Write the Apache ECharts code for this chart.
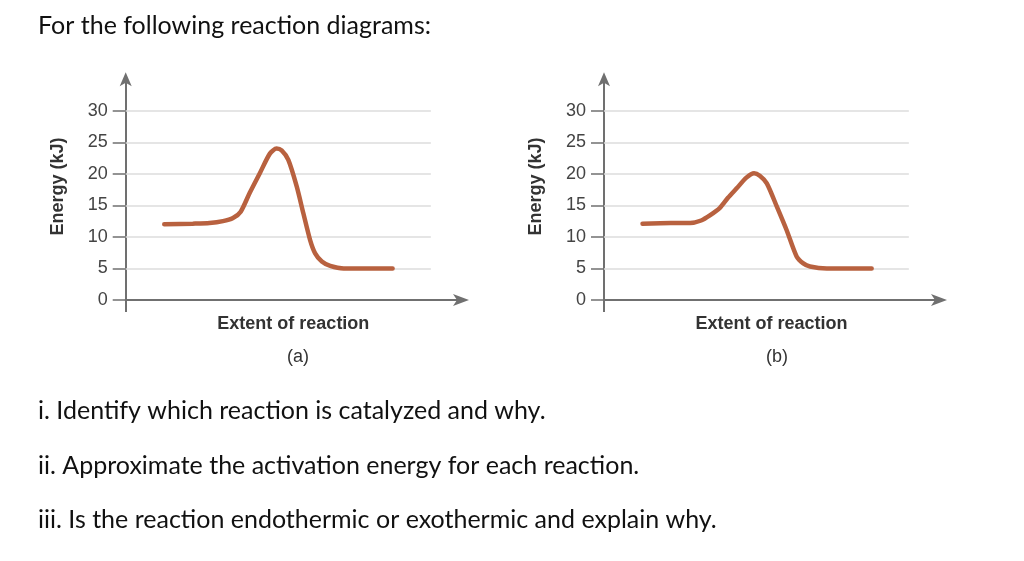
<!DOCTYPE html>
<html>
<head>
<meta charset="utf-8">
<script src="https://cdn.jsdelivr.net/npm/echarts@6/dist/echarts.min.js"></script>
<style>
  html, body { margin: 0; padding: 0; background: #fff; }
  #chart { width: 1024px; height: 561px; }
</style>
</head>
<body>
<div id="chart"></div>
<script>
// energy profile (a): [extent, kJ]
let curveA = [
    [11.5, 12.0], [20, 12.1], [25, 12.2], [29, 12.5], [32, 13.0], [34.3, 14.0],
    [37, 17.0], [40, 20.1], [43, 23.2], [45, 24.0], [46.5, 23.7], [48.5, 22.2],
    [51, 18.0], [53, 13.7], [55, 9.5], [56.5, 7.4], [58.5, 6.1], [61, 5.4],
    [65, 5.0], [79.6, 5.0]
];
// energy profile (b)
let curveB = [
    [11.5, 12.1], [20, 12.2], [25.7, 12.2], [29, 12.6], [31.6, 13.4], [34.6, 14.6],
    [37, 16.2], [39.6, 17.7], [42.5, 19.4], [44.8, 20.1], [46.5, 19.7], [48.6, 18.5],
    [51.6, 14.8], [54.5, 11.1], [57.5, 6.9], [59.5, 5.8], [61.5, 5.3], [66.5, 5.0],
    [79.9, 5.0]
];
let yTicks = [0, 5, 10, 15, 20, 25, 30];
let gridEnd = 91;   // horizontal guide lines stop short of the arrow
let yMax = 35;
let xMax = 100;

let titleText = 'For the following reaction diagrams:';
let questions = [
    'i. Identify which reaction is catalyzed and why.',
    'ii. Approximate the activation energy for each reaction.',
    'iii. Is the reaction endothermic or exothermic and explain why.'
];

let chartFont = '"Liberation Sans", Arial, sans-serif';
let axisColor = '#707070';
let curveColor = '#b8613f';

// 构造坐标轴
function makeX(idx) {
    return {
        type: 'value', gridIndex: idx, min: 0, max: xMax,
        name: 'Extent of reaction', nameLocation: 'middle', nameGap: 15,
        nameTextStyle: { fontFamily: chartFont, fontWeight: 'bold', fontSize: 18, color: '#333' },
        axisLine: { show: true, lineStyle: { color: axisColor, width: 2 },
            symbol: ['none', 'arrow'], symbolSize: [9, 16], symbolOffset: [0, 8] },
        axisTick: { show: true, customValues: [0], length: 12, inside: false,
            lineStyle: { color: axisColor, width: 2 } },
        axisLabel: { show: false },
        splitLine: { show: false }
    };
}
function makeY(idx) {
    return {
        type: 'value', gridIndex: idx, min: 0, max: yMax,
        name: 'Energy (kJ)', nameLocation: 'middle', nameGap: 59,
        nameTextStyle: { fontFamily: chartFont, fontWeight: 'bold', fontSize: 18, color: '#333',
            padding: [0, 0, 0, 6] },
        axisLine: { show: true, lineStyle: { color: axisColor, width: 2 },
            symbol: ['none', 'arrow'], symbolSize: [9, 14], symbolOffset: [0, 7] },
        axisTick: { show: true, customValues: yTicks, length: 13,
            lineStyle: { color: axisColor, width: 1.5 } },
        axisLabel: { show: true, customValues: yTicks, margin: 18,
            fontFamily: chartFont, fontSize: 18, color: '#444' },
        splitLine: { show: false }
    };
}
function guideLines(idx) {
    return {
        type: 'line', xAxisIndex: idx, yAxisIndex: idx, data: [], z: 1,
        markLine: {
            silent: true, symbol: 'none', label: { show: false }, z: 1,
            lineStyle: { color: '#dcdcdc', width: 1.5, type: 'solid' },
            data: yTicks.filter(v => v > 0).map(v => [{ coord: [0, v] }, { coord: [gridEnd, v] }])
        }
    };
}
function curve(idx, data) {
    return {
        type: 'line', xAxisIndex: idx, yAxisIndex: idx, data: data, z: 3,
        smooth: 0.25, showSymbol: false, silent: true,
        lineStyle: { color: curveColor, width: 4.5, cap: 'round' }
    };
}

let chart = echarts.init(document.getElementById('chart'));
let option = {
    animation: false,
    backgroundColor: '#fff',
    title: [
        { text: titleText, left: 38, top: 13, padding: 0,
          textStyle: { fontFamily: 'Lato', fontWeight: 'normal', fontSize: 25, color: '#111' } },
        { text: '(a)', left: 298, top: 348, textAlign: 'center', padding: 0,
          textStyle: { fontFamily: chartFont, fontWeight: 'normal', fontSize: 18, color: '#333' } },
        { text: '(b)', left: 777, top: 348, textAlign: 'center', padding: 0,
          textStyle: { fontFamily: chartFont, fontWeight: 'normal', fontSize: 18, color: '#333' } }
    ].concat(questions.map((q, i) => ({
        text: q, left: 38, top: 398.5 + i * 54.5, padding: 0,
        textStyle: { fontFamily: 'Lato', fontWeight: 'normal', fontSize: 25, color: '#111' }
    }))),
    grid: [
        { left: 125.7, top: 79.2, width: 335.3, height: 220.8 },
        { left: 604, top: 79.2, width: 335, height: 220.8 }
    ],
    xAxis: [makeX(0), makeX(1)],
    yAxis: [makeY(0), makeY(1)],
    series: [guideLines(0), curve(0, curveA), guideLines(1), curve(1, curveB)]
};
chart.setOption(option);
</script>
</body>
</html>
